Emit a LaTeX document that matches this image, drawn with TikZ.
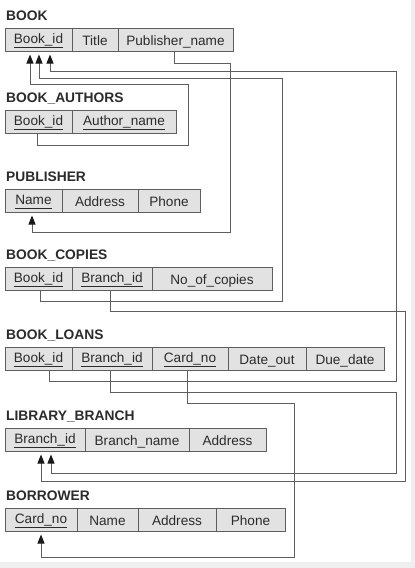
\documentclass[tikz,border=0pt]{standalone}
\usepackage{fontspec}
\setmainfont{Liberation Sans}
\usetikzlibrary{arrows.meta}
\definecolor{linegray}{HTML}{5E5E5E}
\definecolor{cellfill}{HTML}{E2E2E2}
\definecolor{txt}{HTML}{2B2B2B}
\definecolor{tipcol}{HTML}{1A1A1A}
\definecolor{edgegray}{HTML}{EFEFEF}
\newcommand\keyattr[1]{\setbox0\hbox{#1}\rlap{\raisebox{-5pt}{\color{txt}\rule{\wd0}{0.8pt}}}\box0}
\tikzset{
  attrbox/.style={draw=linegray, line width=1pt, fill=cellfill, anchor=north west,
    minimum height=23pt, inner sep=0pt, outer sep=0pt, text=txt,
    font=\fontsize{13.6}{16}\selectfont, text height=12.5pt, text depth=0.5pt},
  keybox/.style={attrbox, text height=10pt, text depth=3pt},
  tabletitle/.style={anchor=base west, inner sep=0pt, text=txt,
    font=\fontsize{13.8}{16}\selectfont\bfseries},
  fkline/.style={draw=linegray, line width=1pt,
    -{Triangle[length=9pt,width=7pt,color=tipcol,fill=tipcol]}, shorten >=3.5pt}
}
\begin{document}
\begin{tikzpicture}[x=1pt,y=-1pt]
\fill[edgegray] (0,0) rectangle (415,568);
\fill[white] (0,0) rectangle (411,562);
\useasboundingbox (0,0) rectangle (415,568);

% BOOK
\node[tabletitle] (t1) at (6,20) {BOOK};
\node[keybox, minimum width=67pt] (b1) at (5,28) {\keyattr{Book\_id}};
\node[attrbox, minimum width=46pt] (b2) at (72,28) {Title};
\node[attrbox, minimum width=115pt] (b3) at (118,28) {Publisher\_name};

% BOOK_AUTHORS
\node[tabletitle] (t2) at (6,102) {BOOK\_AUTHORS};
\node[keybox, minimum width=67pt] (ba1) at (5,110) {\keyattr{Book\_id}};
\node[keybox, minimum width=104pt] (ba2) at (72,110) {\keyattr{Author\_name}};

% PUBLISHER
\node[tabletitle] (t3) at (6,181) {PUBLISHER};
\node[keybox, minimum width=57pt] (p1) at (5,189) {\keyattr{Name}};
\node[attrbox, minimum width=76pt] (p2) at (62,189) {Address};
\node[attrbox, minimum width=62pt] (p3) at (138,189) {Phone};

% BOOK_COPIES
\node[tabletitle] (t4) at (6,259) {BOOK\_COPIES};
\node[keybox, minimum width=67pt] (bc1) at (5,267) {\keyattr{Book\_id}};
\node[keybox, minimum width=80pt] (bc2) at (72,267) {\keyattr{Branch\_id}};
\node[attrbox, minimum width=120pt] (bc3) at (152,267) {No\_of\_copies};

% BOOK_LOANS
\node[tabletitle] (t5) at (6,339) {BOOK\_LOANS};
\node[keybox, minimum width=67pt] (bl1) at (5,347) {\keyattr{Book\_id}};
\node[keybox, minimum width=80pt] (bl2) at (72,347) {\keyattr{Branch\_id}};
\node[keybox, minimum width=76pt] (bl3) at (152,347) {\keyattr{Card\_no}};
\node[attrbox, minimum width=78pt] (bl4) at (228,347) {Date\_out};
\node[attrbox, minimum width=78pt] (bl5) at (306,347) {Due\_date};

% LIBRARY_BRANCH
\node[tabletitle] (t6) at (6,420) {LIBRARY\_BRANCH};
\node[keybox, minimum width=80pt] (lb1) at (5,428) {\keyattr{Branch\_id}};
\node[attrbox, minimum width=104pt] (lb2) at (85,428) {Branch\_name};
\node[attrbox, minimum width=77pt] (lb3) at (189,428) {Address};

% BORROWER
\node[tabletitle] (t7) at (6,500) {BORROWER};
\node[keybox, minimum width=72pt] (br1) at (5,508) {\keyattr{Card\_no}};
\node[attrbox, minimum width=61pt] (br2) at (77,508) {Name};
\node[attrbox, minimum width=78pt] (br3) at (138,508) {Address};
\node[attrbox, minimum width=69pt] (br4) at (216,508) {Phone};

% foreign keys
\draw[fkline] ([xshift=-1.5pt]ba1.south) -- ++(0,12) -| (188,84) -| ([xshift=-8.5pt]b1.south);
\draw[fkline] ([xshift=1.5pt]bc1.south) -- ++(0,11) -| (282,78) -| ([xshift=0.5pt]b1.south);
\draw[fkline] ([xshift=10.5pt]bl1.south) -- ++(0,11) -| (396,71) -| ([xshift=11.5pt]b1.south);
\draw[fkline] ([xshift=-1.5pt]b3.south) -- ++(0,12) -| (230,232) -| ([xshift=-1.5pt]p1.south);
\draw[fkline] ([xshift=-2pt]bc2.south) -- ++(0,21) -| (405,481) -| ([xshift=-4pt]lb1.south);
\draw[fkline] ([xshift=-2pt]bl2.south) -- ++(0,22) -| (396,473) -| ([xshift=6pt]lb1.south);
\draw[fkline] ([xshift=-3pt]bl3.south) -- ++(0,33) -| (294,557) -| (br1.south);
\end{tikzpicture}
\end{document}
